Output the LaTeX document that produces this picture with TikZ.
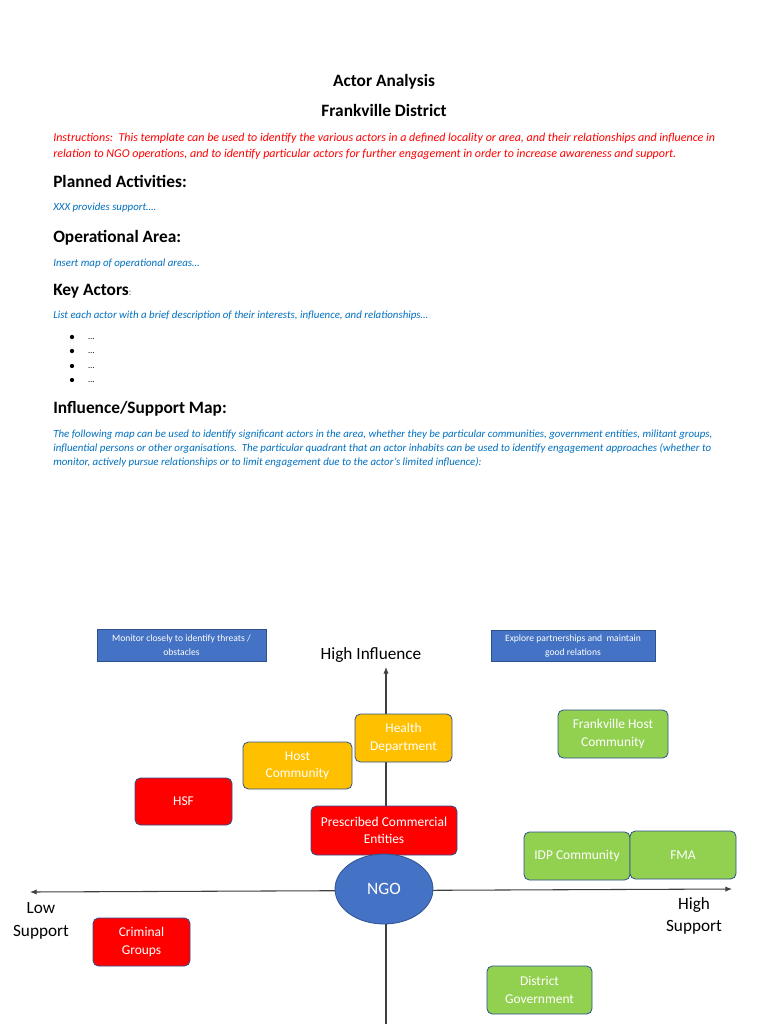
\documentclass[tikz,border=0pt]{standalone}
\usepackage{fontspec}
\setmainfont{Carlito}
\usetikzlibrary{arrows.meta,shapes.geometric}
\definecolor{boxblue}{HTML}{4472C4}
\definecolor{edgeblue}{HTML}{2F528F}
\definecolor{actred}{HTML}{FF0000}
\definecolor{actyellow}{HTML}{FFC000}
\definecolor{actgreen}{HTML}{92D050}
\definecolor{txtred}{HTML}{FF0000}
\definecolor{txtblue}{HTML}{0070C0}
\begin{document}
\begin{tikzpicture}[x=0.75pt,y=-0.75pt,
  title/.style={anchor=base,inner sep=0pt,font=\fontsize{13}{15}\selectfont\bfseries},
  head/.style={anchor=base west,inner sep=0pt,font=\fontsize{13}{15}\selectfont\bfseries},
  redline/.style={anchor=base west,inner sep=0pt,text=txtred,font=\fontsize{9}{11}\selectfont\itshape},
  blueline/.style={anchor=base west,inner sep=0pt,text=txtblue,font=\fontsize{8.15}{10}\selectfont\itshape},
  dots/.style={anchor=base west,inner sep=0pt,font=\fontsize{6.5}{8}\selectfont},
  bul/.style={circle,fill=black,inner sep=0pt,minimum size=3.2pt},
  note/.style={rectangle,fill=boxblue,draw=edgeblue,line width=0.5pt,text=white,align=center,inner sep=1pt,font=\fontsize{7.2}{10.5}\selectfont},
  actor/.style={rectangle,rounded corners=4pt,draw=edgeblue,line width=0.6pt,text=white,align=center,inner sep=1pt,font=\fontsize{10.1}{13}\selectfont},
  axislbl/.style={inner sep=0pt,align=center,font=\fontsize{12.9}{17}\selectfont},
  axis/.style={line width=0.8pt,draw=black!75,-{Latex[length=5pt,width=4pt]}}
]
\useasboundingbox (0,0) rectangle (768,1024);
\fill[white] (0,0) rectangle (768,1024);

% header text
\node[title] (t1) at (384,86) {Actor Analysis};
\node[title] (t2) at (384,117) {Frankville District};
\node[redline] (i1) at (53,142) {Instructions:\ \ This template can be used to identify the various actors in a defined locality or area, and their relationships and influence in};
\node[redline] (i2) at (53,157) {relation to NGO operations, and to identify particular actors for further engagement in order to increase awareness and support.};

\node[head] (h1) at (53,187) {Planned Activities:};
\node[blueline] (p1) at (53,210) {XXX provides support….};
\node[head] (h2) at (53,242) {Operational Area:};
\node[blueline] (p2) at (53,266) {Insert map of operational areas…};
\node[head] (h3) at (53,295) {Key Actors\textcolor{gray}{\fontsize{7}{9}\selectfont:}};
\node[blueline] (p3) at (53,318) {List each actor with a brief description of their interests, influence, and relationships…};
\foreach \yy/\nm in {337/b1,351/b2,366/b3,380/b4}{
  \node[bul] (\nm) at (72,\yy) {};
  \node[dots] (\nm t) at (88,\yy+2) {…};
}
\node[head] (h4) at (53,413) {Influence/Support Map:};
\node[blueline] (q1) at (53,437) {The following map can be used to identify significant actors in the area, whether they be particular communities, government entities, militant groups,};
\node[blueline] (q2) at (53,451) {influential persons or other organisations.\ \ The particular quadrant that an actor inhabits can be used to identify engagement approaches (whether to};
\node[blueline] (q3) at (53,465) {monitor, actively pursue relationships or to limit engagement due to the actor’s limited influence):};

% map axes
\coordinate (vb) at (386,1024);
\coordinate (vt) at (386,667);
\coordinate (hl) at (30,892);
\coordinate (hr) at (732,889);
\coordinate (hm) at (384,890.5);
\draw[axis] (vb) -- (vt);
\draw[axis] (hm) -- (hl);
\draw[axis] (hm) -- (hr);

% quadrant notes
\node[note,minimum width=127pt,minimum height=24pt] (n1) at (181.5,645) {Monitor closely to identify threats /\\obstacles};
\node[note,minimum width=123pt,minimum height=23pt] (n2) at (573,645.5) {Explore partnerships and\ \ maintain\\good relations};

% axis labels
\node[axislbl] (hi) at (371,655) {High Influence};
\node[axislbl] (lo) at (41,921) {Low\\Support};
\node[axislbl] (hs) at (694,916) {High\\Support};

% actors
\node[actor,fill=actyellow,minimum width=72.75pt,minimum height=36pt] (health) at (403.5,738) {Health\\Department};
\node[actor,fill=actyellow,minimum width=81.75pt,minimum height=35.25pt] (host) at (297.5,765.5) {Host\\Community};
\node[actor,fill=actred,minimum width=72.75pt,minimum height=35.25pt] (hsf) at (183.5,801.5) {HSF};
\node[actor,fill=actred,minimum width=109.5pt,minimum height=36.75pt] (pce) at (384,830.5) {Prescribed Commercial\\Entities};
\node[actor,fill=actgreen,minimum width=82.5pt,minimum height=36pt] (fhc) at (613,734) {Frankville Host\\Community};
\node[actor,fill=actgreen,minimum width=79.5pt,minimum height=36pt] (idp) at (577,856) {IDP Community};
\node[actor,fill=actgreen,minimum width=79.5pt,minimum height=36pt] (fma) at (683,855) {FMA};
\node[actor,fill=actred,minimum width=72.75pt,minimum height=36pt] (crim) at (141.5,942) {Criminal\\Groups};
\node[actor,fill=actgreen,minimum width=78.75pt,minimum height=36pt] (dg) at (539.5,990) {District\\Government};
\node[ellipse,fill=boxblue,draw=edgeblue,line width=0.6pt,minimum width=73.5pt,minimum height=52.5pt,inner sep=0pt,text=white,font=\fontsize{13}{15}\selectfont] (ngo) at (384,889) {NGO};
\end{tikzpicture}
\end{document}
